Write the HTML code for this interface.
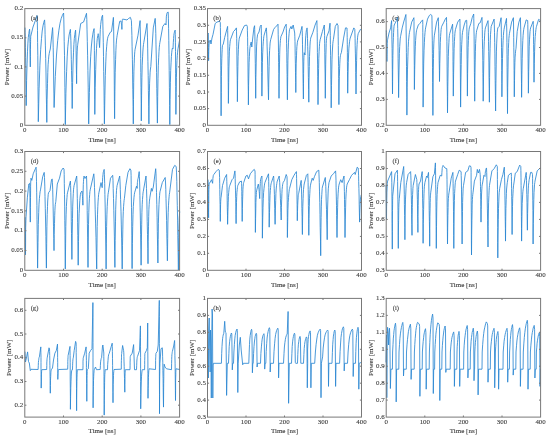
<!DOCTYPE html>
<html><head><meta charset="utf-8"><title>Power time series</title>
<style>
html,body{margin:0;padding:0;background:#fff;}
body{width:550px;height:438px;overflow:hidden;}
svg{display:block;}
text{font-family:"Liberation Serif","DejaVu Serif",serif;fill:#3a3a3a;stroke:#3a3a3a;stroke-width:0.1px;}
.sig{fill:none;stroke:#2a86d2;stroke-width:0.85;stroke-linejoin:round;stroke-linecap:round;}
.ax{fill:none;stroke:#787878;stroke-width:1;}
</style></head><body>
<svg width="550" height="438" viewBox="0 0 550 438">
<rect width="550" height="438" fill="#fff"/>
<g><path class="sig" d="M25.0 28.0 L25.1 32.2 L25.3 39.1 L25.4 47.7 L25.6 57.4 L25.8 68.2 L25.9 79.9 L26.1 92.4 L26.2 105.6 L26.6 80.4 L27.1 63.1 L27.5 51.2 L27.9 43.1 L28.3 37.4 L28.8 33.6 L29.2 30.9 L29.6 29.1 L29.7 31.2 L29.8 34.5 L29.9 38.7 L30.0 43.4 L30.0 48.7 L30.1 54.4 L30.2 60.5 L30.3 66.9 L30.4 56.7 L30.4 49.7 L30.5 44.9 L30.6 41.6 L30.6 39.4 L30.7 37.8 L30.7 36.7 L30.8 36.0 L33.0 27.0 L37.2 15.5 L37.3 21.3 L37.5 30.7 L37.6 42.4 L37.8 55.7 L37.9 70.5 L38.0 86.5 L38.2 103.6 L38.3 121.7 L39.1 88.2 L39.9 65.2 L40.7 49.3 L41.5 38.5 L42.2 31.0 L43.0 25.9 L43.8 22.3 L44.6 19.9 L44.9 25.5 L45.1 34.6 L45.4 45.9 L45.7 58.7 L46.0 73.0 L46.2 88.4 L46.5 104.9 L46.8 122.4 L47.1 99.2 L47.5 83.3 L47.8 72.4 L48.1 64.8 L48.5 59.7 L48.8 56.1 L49.2 53.7 L49.5 52.0 L50.3 49.0 L52.6 27.6 L52.8 31.9 L53.0 39.1 L53.2 47.8 L53.4 57.9 L53.5 69.0 L53.7 81.0 L53.9 93.9 L54.1 107.5 L55.3 76.4 L56.5 55.0 L57.7 40.3 L58.9 30.2 L60.0 23.3 L61.2 18.5 L62.4 15.3 L63.6 13.0 L63.8 19.1 L64.0 29.0 L64.2 41.3 L64.5 55.3 L64.7 70.8 L64.9 87.6 L65.1 105.6 L65.3 124.6 L65.9 93.3 L66.6 71.7 L67.2 56.9 L67.8 46.8 L68.5 39.8 L69.1 35.0 L69.8 31.7 L70.4 29.4 L70.6 33.7 L70.9 40.8 L71.1 49.4 L71.3 59.4 L71.5 70.4 L71.8 82.3 L72.0 95.0 L72.2 108.5 L72.6 82.7 L73.0 65.0 L73.5 52.8 L73.9 44.4 L74.3 38.6 L74.8 34.7 L75.2 32.0 L75.6 30.1 L75.7 33.0 L75.8 37.8 L76.0 43.7 L76.1 50.4 L76.2 57.9 L76.3 65.9 L76.5 74.6 L76.6 83.7 L76.7 70.9 L76.9 62.0 L77.0 56.0 L77.2 51.8 L77.3 49.0 L77.4 47.0 L77.6 45.6 L77.7 44.7 L80.7 23.5 L83.6 22.0 L86.5 13.3 L86.8 19.3 L87.0 29.2 L87.3 41.3 L87.6 55.2 L87.9 70.6 L88.2 87.2 L88.4 105.0 L88.7 123.9 L89.4 92.5 L90.0 71.0 L90.7 56.2 L91.4 46.0 L92.1 39.0 L92.8 34.2 L93.4 30.9 L94.1 28.6 L94.2 33.3 L94.3 40.9 L94.4 50.3 L94.4 61.1 L94.5 73.0 L94.6 86.0 L94.7 99.8 L94.8 114.4 L95.2 87.8 L95.7 69.6 L96.1 57.0 L96.5 48.4 L96.9 42.5 L97.3 38.4 L97.8 35.6 L98.2 33.7 L98.4 34.5 L98.5 35.7 L98.7 37.2 L98.9 39.0 L99.1 40.9 L99.2 43.0 L99.4 45.2 L99.6 47.6 L100.0 36.9 L100.3 29.6 L100.7 24.6 L101.1 21.1 L101.5 18.7 L101.8 17.1 L102.2 16.0 L102.6 15.2 L102.8 21.1 L103.0 30.8 L103.3 42.7 L103.5 56.4 L103.7 71.5 L104.0 87.9 L104.2 105.4 L104.4 123.9 L104.9 95.2 L105.3 75.5 L105.8 61.9 L106.2 52.6 L106.7 46.2 L107.1 41.8 L107.5 38.8 L108.0 36.7 L110.2 32.3 L111.5 31.5 L113.4 17.4 L113.6 22.9 L113.7 31.9 L113.8 43.1 L114.0 55.8 L114.2 69.9 L114.3 85.1 L114.4 101.4 L114.6 118.7 L114.9 91.2 L115.2 72.3 L115.6 59.4 L115.9 50.4 L116.2 44.3 L116.5 40.1 L116.9 37.2 L117.2 35.2 L119.7 21.3 L121.0 21.0 L121.1 21.5 L121.2 22.2 L121.3 23.1 L121.5 24.2 L121.6 25.4 L121.7 26.6 L121.8 28.0 L121.9 29.4 L122.0 26.0 L122.1 23.7 L122.2 22.1 L122.2 21.0 L122.3 20.2 L122.4 19.7 L122.5 19.3 L122.6 19.1 L125.0 19.5 L127.0 20.0 L128.5 18.5 L130.4 17.4 L131.4 20.6 L131.6 26.2 L131.9 35.4 L132.1 46.8 L132.4 59.7 L132.6 74.1 L132.8 89.7 L133.1 106.3 L133.3 123.9 L133.5 99.5 L133.7 82.8 L133.9 71.2 L134.2 63.3 L134.4 57.9 L134.6 54.1 L134.8 51.6 L135.0 49.8 L138.0 35.2 L140.1 20.6 L140.2 26.1 L140.4 35.0 L140.6 46.0 L140.7 58.6 L140.8 72.5 L141.0 87.6 L141.2 103.8 L141.3 120.9 L141.6 95.1 L141.9 77.4 L142.2 65.2 L142.6 56.8 L142.9 51.0 L143.2 47.1 L143.5 44.4 L143.8 42.5 L147.0 23.5 L147.2 29.0 L147.5 37.9 L147.7 48.9 L147.9 61.5 L148.2 75.5 L148.4 90.6 L148.7 106.8 L148.9 123.9 L149.1 105.0 L149.4 92.1 L149.6 83.2 L149.9 77.1 L150.1 72.8 L150.3 70.0 L150.6 68.0 L150.8 66.6 L153.3 27.9 L155.2 18.4 L155.5 24.1 L155.8 33.4 L156.0 44.9 L156.3 58.1 L156.6 72.6 L156.8 88.4 L157.1 105.2 L157.4 123.1 L157.7 96.6 L158.0 78.3 L158.3 65.8 L158.7 57.2 L159.0 51.3 L159.3 47.2 L159.6 44.4 L159.9 42.5 L162.8 26.4 L165.0 23.5 L166.0 25.0 L166.2 20.9 L166.3 18.1 L166.4 16.2 L166.6 14.9 L166.8 14.0 L166.9 13.3 L167.0 12.9 L167.2 12.6 L168.2 12.1 L168.4 18.2 L168.6 28.3 L168.8 40.6 L169.0 54.7 L169.2 70.4 L169.4 87.3 L169.6 105.4 L169.8 124.6 L170.1 99.5 L170.4 82.2 L170.7 70.4 L171.1 62.2 L171.4 56.6 L171.7 52.8 L172.0 50.1 L172.3 48.3 L173.0 49.0 L173.3 42.8 L173.6 38.5 L173.8 35.6 L174.1 33.5 L174.4 32.2 L174.6 31.2 L174.9 30.6 L175.2 30.1 L175.3 34.7 L175.4 42.2 L175.5 51.5 L175.6 62.0 L175.6 73.8 L175.7 86.5 L175.8 100.0 L175.9 114.4 L176.2 92.6 L176.4 77.7 L176.7 67.4 L177.0 60.4 L177.3 55.5 L177.6 52.2 L177.8 49.9 L178.1 48.3 L179.6 40.0"/>
<rect class="ax" x="24.8" y="8.6" width="154.8" height="116.7"/>
<path class="ax" d="M63.5 125.3v-1.6M63.5 8.6v1.6M102.2 125.3v-1.6M102.2 8.6v1.6M140.9 125.3v-1.6M140.9 8.6v1.6M24.8 96.1h1.6M179.6 96.1h-1.6M24.8 66.9h1.6M179.6 66.9h-1.6M24.8 37.8h1.6M179.6 37.8h-1.6"/>
<text x="23.2" y="124.4" font-size="6.9" text-anchor="end" dominant-baseline="central">0</text>
<text x="23.2" y="95.2" font-size="6.9" text-anchor="end" dominant-baseline="central">0.05</text>
<text x="23.2" y="66.0" font-size="6.9" text-anchor="end" dominant-baseline="central">0.1</text>
<text x="23.2" y="36.9" font-size="6.9" text-anchor="end" dominant-baseline="central">0.15</text>
<text x="23.2" y="7.7" font-size="6.9" text-anchor="end" dominant-baseline="central">0.2</text>
<text x="24.8" y="129.7" font-size="6.9" text-anchor="middle" dominant-baseline="central">0</text>
<text x="63.5" y="129.7" font-size="6.9" text-anchor="middle" dominant-baseline="central">100</text>
<text x="102.2" y="129.7" font-size="6.9" text-anchor="middle" dominant-baseline="central">200</text>
<text x="140.9" y="129.7" font-size="6.9" text-anchor="middle" dominant-baseline="central">300</text>
<text x="179.6" y="129.7" font-size="6.9" text-anchor="middle" dominant-baseline="central">400</text>
<text x="102.2" y="139.5" font-size="7.0" text-anchor="middle" dominant-baseline="central">Time [ns]</text>
<text transform="translate(6.8 67.0) rotate(-90)" font-size="7.0" text-anchor="middle" dominant-baseline="central">Power [mW]</text>
<text x="34.5" y="17.2" font-size="6.6" text-anchor="middle" dominant-baseline="central">(a)</text></g>
<g><path class="sig" d="M207.6 45.0 L207.7 41.1 L207.8 38.3 L207.8 36.5 L207.9 35.2 L208.0 34.3 L208.0 33.7 L208.1 33.3 L208.2 33.0 L208.2 34.5 L208.3 37.0 L208.3 40.0 L208.4 43.5 L208.4 47.3 L208.5 51.5 L208.5 56.0 L208.6 60.7 L208.7 54.7 L208.8 50.6 L208.9 47.8 L209.0 45.8 L209.1 44.5 L209.2 43.6 L209.3 42.9 L209.4 42.5 L210.2 40.0 L211.0 44.0 L212.0 38.0 L213.0 34.5 L215.2 23.5 L217.0 22.0 L219.6 21.3 L220.3 22.5 L220.4 27.6 L220.5 35.9 L220.6 46.1 L220.7 57.9 L220.8 70.8 L220.9 84.9 L221.0 99.9 L221.1 115.8 L221.3 92.6 L221.4 76.7 L221.6 65.8 L221.8 58.2 L222.0 53.1 L222.2 49.5 L222.3 47.1 L222.5 45.4 L223.3 44.0 L224.7 37.4 L227.6 26.4 L227.7 30.6 L227.8 37.5 L227.9 45.9 L228.0 55.6 L228.1 66.3 L228.2 77.9 L228.3 90.3 L228.4 103.4 L228.7 82.4 L228.9 68.0 L229.2 58.1 L229.4 51.2 L229.7 46.6 L230.0 43.3 L230.2 41.1 L230.5 39.6 L233.5 31.5 L235.0 30.0 L236.4 27.9 L236.5 31.9 L236.7 38.5 L236.8 46.6 L236.9 55.9 L237.0 66.1 L237.2 77.2 L237.3 89.1 L237.4 101.7 L237.6 80.8 L237.9 66.4 L238.1 56.5 L238.4 49.7 L238.6 45.0 L238.8 41.8 L239.1 39.6 L239.3 38.1 L242.2 30.1 L244.4 25.7 L246.6 25.0 L247.3 26.5 L247.4 30.8 L247.6 37.8 L247.7 46.4 L247.9 56.2 L248.0 67.1 L248.1 78.9 L248.3 91.5 L248.4 104.9 L248.6 85.3 L248.9 71.9 L249.1 62.6 L249.4 56.3 L249.6 51.9 L249.8 48.9 L250.1 46.8 L250.3 45.4 L251.2 42.0 L251.8 47.0 L252.5 40.0 L253.9 27.9 L254.6 25.7 L254.7 29.7 L254.9 36.1 L255.0 44.1 L255.1 53.2 L255.3 63.3 L255.4 74.2 L255.6 85.9 L255.7 98.3 L255.9 77.3 L256.2 62.9 L256.4 53.0 L256.6 46.1 L256.9 41.5 L257.1 38.2 L257.4 36.0 L257.6 34.5 L259.0 32.0 L260.2 26.4 L261.2 25.0 L261.3 28.9 L261.4 35.2 L261.5 43.0 L261.5 51.9 L261.6 61.8 L261.7 72.5 L261.8 84.0 L261.9 96.1 L262.2 76.1 L262.4 62.3 L262.7 52.8 L263.0 46.3 L263.3 41.8 L263.6 38.8 L263.8 36.7 L264.1 35.2 L266.3 27.9 L266.6 31.8 L266.9 38.2 L267.1 46.1 L267.4 55.1 L267.7 65.1 L267.9 76.0 L268.2 87.5 L268.5 99.8 L268.8 80.0 L269.1 66.4 L269.3 57.0 L269.6 50.6 L269.9 46.2 L270.1 43.1 L270.4 41.0 L270.7 39.6 L273.6 29.4 L275.0 27.5 L276.5 26.0 L278.0 24.2 L278.1 28.2 L278.2 34.8 L278.4 43.0 L278.5 52.3 L278.6 62.6 L278.8 73.7 L278.9 85.7 L279.0 98.3 L279.2 78.0 L279.5 64.1 L279.7 54.5 L279.9 47.9 L280.2 43.4 L280.4 40.3 L280.7 38.2 L280.9 36.7 L283.0 32.0 L284.6 27.0 L286.2 24.2 L286.3 28.3 L286.5 35.1 L286.6 43.3 L286.8 52.8 L286.9 63.4 L287.1 74.7 L287.2 86.9 L287.4 99.8 L287.7 76.6 L287.9 60.7 L288.2 49.8 L288.5 42.2 L288.8 37.1 L289.1 33.5 L289.3 31.1 L289.6 29.4 L291.0 26.4 L291.8 29.0 L293.2 25.0 L294.7 33.0 L294.8 36.2 L295.0 41.5 L295.1 48.1 L295.2 55.5 L295.4 63.8 L295.5 72.8 L295.7 82.4 L295.8 92.5 L296.0 75.6 L296.2 63.9 L296.5 55.9 L296.7 50.4 L296.9 46.6 L297.2 44.0 L297.4 42.2 L297.6 41.0 L299.8 35.2 L302.0 26.4 L302.2 30.4 L302.4 36.8 L302.5 44.8 L302.7 53.9 L302.9 64.0 L303.0 74.9 L303.2 86.6 L303.4 99.0 L303.5 83.8 L303.6 73.3 L303.7 66.1 L303.8 61.1 L303.9 57.7 L304.0 55.4 L304.1 53.8 L304.2 52.7 L305.0 55.0 L305.3 46.1 L305.5 40.0 L305.8 35.7 L306.1 32.8 L306.3 30.9 L306.6 29.5 L306.8 28.5 L307.1 27.9 L307.3 31.9 L307.5 38.6 L307.7 46.7 L308.0 56.1 L308.2 66.4 L308.4 77.6 L308.6 89.5 L308.8 102.2 L309.0 81.1 L309.3 66.6 L309.5 56.6 L309.8 49.8 L310.0 45.1 L310.2 41.9 L310.5 39.6 L310.7 38.1 L312.9 32.3 L315.1 25.0 L316.9 20.6 L317.0 25.2 L317.2 32.7 L317.3 41.9 L317.4 52.4 L317.6 64.1 L317.7 76.8 L317.9 90.3 L318.0 104.6 L318.3 83.2 L318.6 68.5 L318.8 58.4 L319.1 51.5 L319.4 46.7 L319.6 43.4 L319.9 41.1 L320.2 39.6 L322.4 31.5 L324.3 25.0 L324.4 29.0 L324.6 35.5 L324.7 43.6 L324.8 52.8 L324.9 63.0 L325.1 74.0 L325.2 85.8 L325.3 98.3 L325.5 78.0 L325.7 64.1 L325.9 54.5 L326.1 47.9 L326.2 43.4 L326.4 40.3 L326.6 38.2 L326.8 36.7 L329.0 30.8 L330.0 23.2 L330.1 27.8 L330.3 35.3 L330.4 44.6 L330.6 55.3 L330.8 67.0 L330.9 79.8 L331.1 93.4 L331.2 107.8 L331.5 85.4 L331.8 69.9 L332.0 59.3 L332.3 52.0 L332.6 47.0 L332.8 43.6 L333.1 41.2 L333.4 39.6 L335.3 26.4 L337.0 23.5 L338.0 25.5 L338.1 29.8 L338.2 36.9 L338.3 45.5 L338.4 55.5 L338.6 66.5 L338.7 78.4 L338.8 91.1 L338.9 104.6 L339.1 88.0 L339.3 76.6 L339.6 68.8 L339.8 63.4 L340.0 59.7 L340.2 57.1 L340.5 55.4 L340.7 54.2 L341.4 52.5 L343.6 38.1 L345.5 27.9 L347.0 28.0 L347.1 31.5 L347.2 37.4 L347.3 44.5 L347.4 52.7 L347.4 61.8 L347.5 71.6 L347.6 82.1 L347.7 93.2 L348.0 75.1 L348.3 62.6 L348.6 54.0 L348.9 48.2 L349.3 44.1 L349.6 41.3 L349.9 39.4 L350.2 38.1 L353.8 27.9 L354.8 29.4 L354.9 32.9 L355.1 38.7 L355.2 45.8 L355.4 53.9 L355.6 62.9 L355.7 72.6 L355.9 83.0 L356.0 94.0 L356.3 74.2 L356.6 60.5 L356.8 51.1 L357.1 44.7 L357.4 40.3 L357.6 37.2 L357.9 35.1 L358.2 33.7 L360.4 29.4 L361.3 30.0"/>
<rect class="ax" x="207.5" y="8.6" width="154.0" height="116.7"/>
<path class="ax" d="M246.0 125.3v-1.6M246.0 8.6v1.6M284.5 125.3v-1.6M284.5 8.6v1.6M323.0 125.3v-1.6M323.0 8.6v1.6M207.5 108.6h1.6M361.5 108.6h-1.6M207.5 92.0h1.6M361.5 92.0h-1.6M207.5 75.3h1.6M361.5 75.3h-1.6M207.5 58.6h1.6M361.5 58.6h-1.6M207.5 41.9h1.6M361.5 41.9h-1.6M207.5 25.3h1.6M361.5 25.3h-1.6"/>
<text x="205.9" y="124.4" font-size="6.9" text-anchor="end" dominant-baseline="central">0</text>
<text x="205.9" y="107.7" font-size="6.9" text-anchor="end" dominant-baseline="central">0.05</text>
<text x="205.9" y="91.1" font-size="6.9" text-anchor="end" dominant-baseline="central">0.1</text>
<text x="205.9" y="74.4" font-size="6.9" text-anchor="end" dominant-baseline="central">0.15</text>
<text x="205.9" y="57.7" font-size="6.9" text-anchor="end" dominant-baseline="central">0.2</text>
<text x="205.9" y="41.0" font-size="6.9" text-anchor="end" dominant-baseline="central">0.25</text>
<text x="205.9" y="24.4" font-size="6.9" text-anchor="end" dominant-baseline="central">0.3</text>
<text x="205.9" y="7.7" font-size="6.9" text-anchor="end" dominant-baseline="central">0.35</text>
<text x="207.5" y="129.7" font-size="6.9" text-anchor="middle" dominant-baseline="central">0</text>
<text x="246.0" y="129.7" font-size="6.9" text-anchor="middle" dominant-baseline="central">100</text>
<text x="284.5" y="129.7" font-size="6.9" text-anchor="middle" dominant-baseline="central">200</text>
<text x="323.0" y="129.7" font-size="6.9" text-anchor="middle" dominant-baseline="central">300</text>
<text x="361.5" y="129.7" font-size="6.9" text-anchor="middle" dominant-baseline="central">400</text>
<text x="284.5" y="139.5" font-size="7.0" text-anchor="middle" dominant-baseline="central">Time [ns]</text>
<text transform="translate(188.2 67.0) rotate(-90)" font-size="7.0" text-anchor="middle" dominant-baseline="central">Power [mW]</text>
<text x="217.2" y="17.2" font-size="6.6" text-anchor="middle" dominant-baseline="central">(b)</text></g>
<g><path class="sig" d="M386.3 30.8 L386.4 32.5 L386.4 35.2 L386.5 38.6 L386.6 42.4 L386.7 46.7 L386.8 51.3 L386.8 56.3 L386.9 61.5 L387.0 54.3 L387.1 49.3 L387.2 45.9 L387.2 43.6 L387.3 42.0 L387.4 40.9 L387.5 40.1 L387.6 39.6 L389.0 33.0 L390.6 27.9 L391.6 20.6 L391.7 24.6 L391.8 31.1 L391.9 39.2 L392.1 48.4 L392.2 58.6 L392.3 69.6 L392.4 81.4 L392.5 93.9 L392.7 71.2 L392.9 55.6 L393.1 44.9 L393.4 37.6 L393.6 32.5 L393.8 29.0 L394.0 26.6 L394.2 25.0 L396.4 20.6 L397.4 17.0 L397.5 21.4 L397.7 28.6 L397.9 37.4 L398.0 47.5 L398.1 58.7 L398.3 70.9 L398.5 83.9 L398.6 97.6 L398.9 77.1 L399.2 63.0 L399.4 53.3 L399.7 46.6 L400.0 42.0 L400.2 38.9 L400.5 36.7 L400.8 35.2 L402.2 27.9 L403.7 22.0 L405.9 14.5 L406.0 20.0 L406.1 28.9 L406.3 40.0 L406.4 52.6 L406.5 66.6 L406.6 81.7 L406.8 97.9 L406.9 115.1 L407.2 87.9 L407.5 69.1 L407.9 56.3 L408.2 47.4 L408.5 41.3 L408.9 37.1 L409.2 34.3 L409.5 32.3 L411.7 22.1 L413.9 17.7 L414.0 21.6 L414.0 28.0 L414.1 35.9 L414.1 44.9 L414.2 54.9 L414.3 65.7 L414.3 77.3 L414.4 89.5 L414.7 69.7 L415.0 56.1 L415.3 46.8 L415.6 40.4 L415.9 36.0 L416.2 32.9 L416.5 30.8 L416.8 29.4 L418.3 25.0 L419.8 23.5 L421.6 21.0 L422.7 19.9 L422.8 24.6 L422.8 32.4 L422.9 42.0 L422.9 52.9 L422.9 65.1 L423.0 78.2 L423.1 92.2 L423.1 107.1 L423.4 81.0 L423.7 63.1 L424.0 50.8 L424.4 42.3 L424.7 36.5 L425.0 32.5 L425.3 29.8 L425.6 27.9 L427.5 19.1 L429.3 15.5 L430.7 14.5 L431.9 15.5 L432.0 20.9 L432.1 29.8 L432.3 40.8 L432.4 53.4 L432.5 67.2 L432.6 82.3 L432.8 98.4 L432.9 115.4 L433.1 89.0 L433.3 70.9 L433.5 58.4 L433.6 49.8 L433.8 43.9 L434.0 39.9 L434.2 37.1 L434.4 35.2 L436.6 22.1 L438.3 17.7 L438.4 21.2 L438.6 26.9 L438.8 33.9 L438.9 41.9 L439.1 50.7 L439.2 60.3 L439.4 70.6 L439.5 81.5 L439.8 63.4 L440.1 50.9 L440.3 42.3 L440.6 36.5 L440.9 32.4 L441.1 29.6 L441.4 27.7 L441.7 26.4 L443.9 22.1 L445.3 19.1 L446.5 17.4 L446.6 22.6 L446.8 31.1 L446.9 41.6 L447.0 53.6 L447.1 66.9 L447.2 81.2 L447.4 96.6 L447.5 112.9 L447.8 86.8 L448.1 68.9 L448.3 56.6 L448.6 48.1 L448.9 42.3 L449.1 38.3 L449.4 35.6 L449.7 33.7 L452.6 24.2 L452.7 28.1 L452.8 34.5 L452.9 42.4 L453.0 51.4 L453.0 61.4 L453.1 72.3 L453.2 83.8 L453.3 96.1 L453.6 74.1 L453.9 59.1 L454.1 48.7 L454.4 41.6 L454.7 36.7 L454.9 33.3 L455.2 31.0 L455.5 29.4 L457.7 22.1 L459.9 19.1 L460.0 23.9 L460.1 31.7 L460.2 41.4 L460.2 52.4 L460.3 64.7 L460.4 77.9 L460.5 92.1 L460.6 107.1 L460.9 82.0 L461.2 64.7 L461.4 52.9 L461.7 44.7 L462.0 39.1 L462.2 35.3 L462.5 32.6 L462.8 30.8 L464.2 25.0 L465.6 20.6 L466.7 20.3 L466.8 24.4 L466.9 31.2 L467.0 39.5 L467.0 49.0 L467.1 59.6 L467.2 71.0 L467.3 83.2 L467.4 96.1 L467.6 73.7 L467.9 58.2 L468.1 47.6 L468.4 40.3 L468.6 35.3 L468.8 31.9 L469.1 29.5 L469.3 27.9 L470.8 23.5 L472.2 17.7 L473.7 14.0 L473.8 18.7 L473.9 26.5 L474.1 36.1 L474.2 47.0 L474.3 59.2 L474.4 72.3 L474.6 86.3 L474.7 101.2 L474.9 78.0 L475.2 62.1 L475.4 51.2 L475.6 43.6 L475.9 38.5 L476.1 34.9 L476.4 32.5 L476.6 30.8 L478.8 23.5 L480.2 22.8 L482.0 17.4 L482.1 22.0 L482.3 29.4 L482.4 38.6 L482.6 49.2 L482.8 60.8 L482.9 73.4 L483.1 86.9 L483.2 101.2 L483.5 77.1 L483.8 60.5 L484.0 49.1 L484.3 41.3 L484.6 35.9 L484.8 32.2 L485.1 29.6 L485.4 27.9 L488.0 20.6 L488.2 25.0 L488.4 32.3 L488.5 41.3 L488.7 51.5 L488.9 62.9 L489.0 75.1 L489.2 88.3 L489.4 102.2 L489.6 77.3 L489.8 60.1 L490.1 48.3 L490.3 40.2 L490.5 34.7 L490.8 30.8 L491.0 28.2 L491.2 26.4 L494.1 19.1 L494.3 24.1 L494.5 32.3 L494.7 42.4 L494.9 53.9 L495.0 66.7 L495.2 80.5 L495.4 95.3 L495.6 111.0 L495.9 83.7 L496.2 64.9 L496.4 51.9 L496.7 43.1 L497.0 37.0 L497.2 32.8 L497.5 29.9 L497.8 27.9 L499.2 26.4 L501.1 17.7 L501.2 22.0 L501.3 29.1 L501.4 37.7 L501.5 47.7 L501.6 58.7 L501.7 70.6 L501.8 83.3 L501.9 96.8 L502.2 74.1 L502.5 58.5 L502.8 47.8 L503.1 40.5 L503.4 35.4 L503.7 31.9 L504.0 29.5 L504.3 27.9 L506.5 18.4 L506.6 23.6 L506.8 32.1 L506.9 42.5 L507.0 54.5 L507.1 67.7 L507.2 82.0 L507.4 97.4 L507.5 113.6 L507.7 87.3 L508.0 69.2 L508.2 56.8 L508.4 48.3 L508.7 42.4 L508.9 38.4 L509.2 35.6 L509.4 33.7 L511.6 22.1 L513.4 17.7 L513.5 22.0 L513.6 29.1 L513.7 37.7 L513.8 47.7 L514.0 58.7 L514.1 70.6 L514.2 83.3 L514.3 96.8 L514.5 80.8 L514.7 69.9 L514.9 62.3 L515.1 57.1 L515.4 53.6 L515.6 51.1 L515.8 49.5 L516.0 48.3 L517.2 31.5 L518.9 22.1 L520.4 17.7 L520.5 22.0 L520.7 29.1 L520.9 37.9 L521.0 47.9 L521.1 58.9 L521.3 70.9 L521.5 83.7 L521.6 97.3 L521.9 74.5 L522.2 58.8 L522.5 48.0 L522.8 40.6 L523.1 35.5 L523.4 32.0 L523.7 29.6 L524.0 27.9 L526.2 19.9 L527.7 20.6 L527.8 24.6 L527.9 31.0 L528.0 39.0 L528.0 48.1 L528.1 58.2 L528.2 69.1 L528.3 80.8 L528.4 93.2 L528.7 71.7 L529.0 56.9 L529.2 46.8 L529.5 39.8 L529.8 35.0 L530.0 31.7 L530.3 29.5 L530.6 27.9 L533.2 21.3 L533.3 24.6 L533.4 30.0 L533.5 36.7 L533.6 44.4 L533.7 52.8 L533.8 62.0 L533.9 71.8 L534.0 82.2 L534.3 63.8 L534.6 51.2 L534.9 42.5 L535.2 36.6 L535.6 32.5 L535.9 29.7 L536.2 27.7 L536.5 26.4 L538.6 19.4 L540.5 20.6"/>
<rect class="ax" x="386.2" y="8.6" width="154.4" height="116.7"/>
<path class="ax" d="M424.8 125.3v-1.6M424.8 8.6v1.6M463.4 125.3v-1.6M463.4 8.6v1.6M502.0 125.3v-1.6M502.0 8.6v1.6M386.2 99.4h1.6M540.6 99.4h-1.6M386.2 73.4h1.6M540.6 73.4h-1.6M386.2 47.5h1.6M540.6 47.5h-1.6M386.2 21.6h1.6M540.6 21.6h-1.6"/>
<text x="384.6" y="124.4" font-size="6.9" text-anchor="end" dominant-baseline="central">0.2</text>
<text x="384.6" y="98.5" font-size="6.9" text-anchor="end" dominant-baseline="central">0.3</text>
<text x="384.6" y="72.5" font-size="6.9" text-anchor="end" dominant-baseline="central">0.4</text>
<text x="384.6" y="46.6" font-size="6.9" text-anchor="end" dominant-baseline="central">0.5</text>
<text x="384.6" y="20.7" font-size="6.9" text-anchor="end" dominant-baseline="central">0.6</text>
<text x="386.2" y="129.7" font-size="6.9" text-anchor="middle" dominant-baseline="central">0</text>
<text x="424.8" y="129.7" font-size="6.9" text-anchor="middle" dominant-baseline="central">100</text>
<text x="463.4" y="129.7" font-size="6.9" text-anchor="middle" dominant-baseline="central">200</text>
<text x="502.0" y="129.7" font-size="6.9" text-anchor="middle" dominant-baseline="central">300</text>
<text x="540.6" y="129.7" font-size="6.9" text-anchor="middle" dominant-baseline="central">400</text>
<text x="463.4" y="139.5" font-size="7.0" text-anchor="middle" dominant-baseline="central">Time [ns]</text>
<text transform="translate(371.4 67.0) rotate(-90)" font-size="7.0" text-anchor="middle" dominant-baseline="central">Power [mW]</text>
<text x="395.9" y="17.2" font-size="6.6" text-anchor="middle" dominant-baseline="central">(c)</text></g>
<g><path class="sig" d="M25.2 217.7 L25.2 219.7 L25.3 223.0 L25.3 227.1 L25.4 231.8 L25.4 236.9 L25.4 242.5 L25.5 248.5 L25.5 254.8 L25.6 242.0 L25.6 233.3 L25.7 227.2 L25.8 223.1 L25.9 220.2 L26.0 218.3 L26.0 216.9 L26.1 216.0 L27.4 197.2 L28.8 184.0 L29.6 183.3 L29.7 185.4 L29.8 188.9 L29.9 193.1 L30.0 198.0 L30.0 203.4 L30.1 209.2 L30.2 215.5 L30.3 222.1 L30.4 207.7 L30.5 197.7 L30.6 190.9 L30.6 186.2 L30.7 183.0 L30.8 180.8 L30.9 179.2 L31.0 178.2 L31.8 180.4 L33.2 173.8 L35.4 168.7 L36.1 167.2 L36.3 172.7 L36.5 181.7 L36.7 192.8 L36.9 205.4 L37.0 219.5 L37.2 234.6 L37.4 250.9 L37.6 268.1 L38.0 242.4 L38.3 224.7 L38.7 212.5 L39.0 204.2 L39.4 198.4 L39.8 194.5 L40.1 191.8 L40.5 189.9 L42.7 176.7 L44.2 172.4 L44.5 177.6 L44.8 186.1 L45.0 196.6 L45.3 208.7 L45.6 222.0 L45.9 236.4 L46.1 251.8 L46.4 268.1 L46.7 243.3 L46.9 226.3 L47.2 214.6 L47.5 206.5 L47.7 201.0 L48.0 197.2 L48.2 194.6 L48.5 192.8 L50.0 190.6 L51.5 179.7 L52.2 178.9 L52.4 182.8 L52.7 189.2 L52.9 197.1 L53.1 206.1 L53.3 216.0 L53.5 226.8 L53.8 238.4 L54.0 250.6 L54.2 234.5 L54.5 223.4 L54.7 215.8 L54.9 210.5 L55.1 206.9 L55.3 204.5 L55.6 202.8 L55.8 201.6 L57.3 184.0 L59.5 178.2 L61.2 170.9 L63.1 168.0 L64.0 169.0 L64.2 174.4 L64.3 183.3 L64.5 194.3 L64.7 206.9 L64.8 220.7 L65.0 235.8 L65.1 251.9 L65.3 268.9 L65.6 243.9 L65.8 226.6 L66.1 214.8 L66.4 206.7 L66.7 201.1 L67.0 197.3 L67.2 194.6 L67.5 192.8 L70.4 181.1 L70.6 185.4 L70.8 192.3 L71.0 200.9 L71.2 210.8 L71.3 221.7 L71.5 233.4 L71.7 246.0 L71.9 259.4 L72.2 235.1 L72.5 218.4 L72.7 206.9 L73.0 199.0 L73.3 193.6 L73.5 189.8 L73.8 187.3 L74.1 185.5 L76.7 176.0 L76.9 180.9 L77.1 188.8 L77.3 198.6 L77.5 209.8 L77.6 222.2 L77.8 235.6 L78.0 250.0 L78.2 265.2 L78.5 241.4 L78.8 225.0 L79.1 213.7 L79.5 206.0 L79.8 200.7 L80.1 197.0 L80.4 194.5 L80.7 192.8 L82.0 191.0 L82.1 191.8 L82.2 193.0 L82.3 194.6 L82.5 196.4 L82.6 198.4 L82.7 200.5 L82.8 202.8 L82.9 205.2 L83.0 195.6 L83.2 189.0 L83.3 184.4 L83.5 181.3 L83.6 179.2 L83.7 177.7 L83.9 176.7 L84.0 176.0 L85.0 178.5 L86.5 176.0 L86.7 181.0 L86.9 189.1 L87.1 199.2 L87.2 210.6 L87.4 223.3 L87.6 237.1 L87.8 251.8 L88.0 267.4 L88.3 241.9 L88.5 224.4 L88.8 212.3 L89.1 204.0 L89.4 198.3 L89.7 194.4 L89.9 191.7 L90.2 189.9 L93.8 173.8 L94.2 179.0 L94.5 187.5 L94.9 197.9 L95.2 209.8 L95.6 223.1 L96.0 237.4 L96.3 252.7 L96.7 268.9 L97.0 243.9 L97.2 226.6 L97.5 214.8 L97.8 206.7 L98.1 201.1 L98.4 197.3 L98.6 194.6 L98.9 192.8 L101.0 182.6 L102.2 187.7 L102.5 181.7 L102.7 177.5 L103.0 174.7 L103.2 172.7 L103.5 171.4 L103.7 170.5 L104.0 169.8 L104.2 169.4 L104.4 174.8 L104.7 183.7 L104.9 194.6 L105.2 207.1 L105.4 220.9 L105.6 235.9 L105.9 251.9 L106.1 268.9 L106.4 243.9 L106.6 226.6 L106.9 214.8 L107.2 206.7 L107.5 201.1 L107.8 197.3 L108.0 194.6 L108.3 192.8 L110.5 178.2 L112.7 175.3 L113.0 180.3 L113.2 188.5 L113.5 198.6 L113.8 210.2 L114.1 223.0 L114.4 236.9 L114.6 251.7 L114.9 267.4 L115.2 240.4 L115.5 221.9 L115.7 209.2 L116.0 200.4 L116.3 194.4 L116.5 190.3 L116.8 187.5 L117.1 185.5 L119.7 176.0 L120.0 181.1 L120.3 189.3 L120.6 199.5 L121.0 211.2 L121.3 224.1 L121.6 238.1 L121.9 253.1 L122.2 268.9 L122.5 245.8 L122.8 229.9 L123.0 218.9 L123.3 211.4 L123.6 206.3 L123.9 202.7 L124.1 200.3 L124.4 198.6 L125.8 185.5 L128.0 172.4 L129.9 168.7 L130.9 170.0 L131.1 175.4 L131.2 184.2 L131.3 195.0 L131.5 207.4 L131.7 221.1 L131.8 235.9 L131.9 251.8 L132.1 268.6 L132.4 243.7 L132.7 226.5 L133.0 214.7 L133.3 206.6 L133.7 201.1 L134.0 197.2 L134.3 194.6 L134.6 192.8 L136.5 186.2 L137.2 188.4 L137.3 185.0 L137.4 182.7 L137.6 181.2 L137.7 180.1 L137.8 179.3 L137.9 178.8 L138.1 178.4 L138.2 178.2 L139.2 171.6 L139.4 176.7 L139.7 185.0 L139.9 195.3 L140.1 207.1 L140.4 220.1 L140.6 234.2 L140.9 249.2 L141.1 265.2 L141.4 240.9 L141.7 224.2 L141.9 212.7 L142.2 204.8 L142.5 199.4 L142.8 195.6 L143.0 193.1 L143.3 191.3 L146.0 176.0 L146.2 180.8 L146.5 188.6 L146.8 198.2 L147.0 209.2 L147.2 221.4 L147.5 234.6 L147.8 248.7 L148.0 263.7 L148.2 241.8 L148.5 226.8 L148.7 216.4 L148.9 209.3 L149.2 204.4 L149.4 201.1 L149.7 198.8 L149.9 197.2 L151.4 188.4 L152.1 191.3 L153.3 187.0 L155.7 168.7 L156.0 173.8 L156.2 182.2 L156.5 192.6 L156.8 204.4 L157.1 217.5 L157.3 231.7 L157.6 246.9 L157.9 263.0 L158.2 239.4 L158.4 223.2 L158.7 212.0 L159.0 204.4 L159.3 199.1 L159.6 195.5 L159.8 193.0 L160.1 191.3 L162.3 182.6 L165.2 177.5 L165.5 182.0 L165.8 189.5 L166.0 198.6 L166.3 209.1 L166.6 220.6 L166.8 233.2 L167.1 246.6 L167.4 260.8 L167.7 238.4 L167.9 223.0 L168.2 212.5 L168.5 205.2 L168.8 200.2 L169.1 196.8 L169.3 194.4 L169.6 192.8 L172.5 169.4 L174.7 165.4 L176.2 166.5 L176.5 172.1 L176.8 181.4 L177.0 192.7 L177.3 205.7 L177.6 220.1 L177.8 235.7 L178.1 252.4 L178.4 270.0 L178.6 250.9 L178.7 237.8 L178.9 228.8 L179.1 222.6 L179.2 218.3 L179.4 215.4 L179.5 213.4 L179.7 212.0"/>
<rect class="ax" x="24.8" y="151.5" width="154.8" height="118.8"/>
<path class="ax" d="M63.5 270.3v-1.6M63.5 151.5v1.6M102.2 270.3v-1.6M102.2 151.5v1.6M140.9 270.3v-1.6M140.9 151.5v1.6M24.8 250.5h1.6M179.6 250.5h-1.6M24.8 230.7h1.6M179.6 230.7h-1.6M24.8 210.9h1.6M179.6 210.9h-1.6M24.8 191.1h1.6M179.6 191.1h-1.6M24.8 171.3h1.6M179.6 171.3h-1.6"/>
<text x="23.2" y="269.4" font-size="6.9" text-anchor="end" dominant-baseline="central">0</text>
<text x="23.2" y="249.6" font-size="6.9" text-anchor="end" dominant-baseline="central">0.05</text>
<text x="23.2" y="229.8" font-size="6.9" text-anchor="end" dominant-baseline="central">0.1</text>
<text x="23.2" y="210.0" font-size="6.9" text-anchor="end" dominant-baseline="central">0.15</text>
<text x="23.2" y="190.2" font-size="6.9" text-anchor="end" dominant-baseline="central">0.2</text>
<text x="23.2" y="170.4" font-size="6.9" text-anchor="end" dominant-baseline="central">0.25</text>
<text x="23.2" y="150.6" font-size="6.9" text-anchor="end" dominant-baseline="central">0.3</text>
<text x="24.8" y="274.7" font-size="6.9" text-anchor="middle" dominant-baseline="central">0</text>
<text x="63.5" y="274.7" font-size="6.9" text-anchor="middle" dominant-baseline="central">100</text>
<text x="102.2" y="274.7" font-size="6.9" text-anchor="middle" dominant-baseline="central">200</text>
<text x="140.9" y="274.7" font-size="6.9" text-anchor="middle" dominant-baseline="central">300</text>
<text x="179.6" y="274.7" font-size="6.9" text-anchor="middle" dominant-baseline="central">400</text>
<text x="102.2" y="284.5" font-size="7.0" text-anchor="middle" dominant-baseline="central">Time [ns]</text>
<text transform="translate(6.8 210.9) rotate(-90)" font-size="7.0" text-anchor="middle" dominant-baseline="central">Power [mW]</text>
<text x="34.5" y="160.1" font-size="6.6" text-anchor="middle" dominant-baseline="central">(d)</text></g>
<g><path class="sig" d="M207.6 191.3 L207.6 187.5 L207.7 184.9 L207.7 183.1 L207.8 181.8 L207.8 181.0 L207.8 180.4 L207.9 180.0 L207.9 179.7 L208.2 188.0 L208.2 189.6 L208.3 192.3 L208.3 195.5 L208.4 199.3 L208.4 203.4 L208.5 207.9 L208.5 212.7 L208.6 217.8 L208.7 206.3 L208.8 198.5 L208.8 193.1 L208.9 189.3 L209.0 186.8 L209.0 185.0 L209.1 183.8 L209.2 183.0 L210.1 182.6 L211.5 179.7 L212.6 183.3 L212.8 180.4 L212.9 178.4 L213.1 177.0 L213.2 176.1 L213.3 175.5 L213.5 175.0 L213.7 174.7 L213.8 174.5 L216.0 171.6 L218.1 169.4 L219.3 170.2 L219.4 173.0 L219.6 177.6 L219.7 183.2 L219.8 189.6 L219.9 196.7 L220.1 204.4 L220.2 212.7 L220.3 221.4 L220.4 213.4 L220.5 208.0 L220.6 204.2 L220.7 201.6 L220.8 199.8 L220.9 198.6 L221.0 197.8 L221.1 197.2 L222.5 185.5 L224.7 178.2 L226.6 174.5 L226.7 177.2 L226.8 181.7 L227.0 187.1 L227.1 193.4 L227.2 200.3 L227.3 207.8 L227.5 215.8 L227.6 224.3 L227.9 211.5 L228.2 202.8 L228.4 196.7 L228.7 192.6 L229.0 189.7 L229.2 187.8 L229.5 186.4 L229.8 185.5 L232.0 179.7 L233.5 178.2 L234.9 170.9 L235.1 173.8 L235.2 178.5 L235.3 184.2 L235.5 190.9 L235.7 198.2 L235.8 206.1 L235.9 214.6 L236.1 223.6 L236.3 211.1 L236.5 202.4 L236.7 196.5 L236.9 192.5 L237.2 189.7 L237.4 187.7 L237.6 186.4 L237.8 185.5 L239.7 181.8 L241.5 181.1 L241.6 183.3 L241.7 186.9 L241.8 191.3 L241.8 196.4 L241.9 202.0 L242.0 208.0 L242.1 214.5 L242.2 221.4 L242.4 208.6 L242.6 199.9 L242.8 193.8 L242.9 189.7 L243.1 186.8 L243.3 184.9 L243.5 183.5 L243.7 182.6 L245.9 176.0 L247.3 175.3 L248.5 178.9 L250.3 173.8 L253.2 170.2 L254.3 169.4 L255.0 171.0 L255.1 174.3 L255.1 179.8 L255.2 186.6 L255.2 194.3 L255.2 202.8 L255.3 212.0 L255.3 221.9 L255.4 232.4 L255.6 218.4 L255.8 208.8 L255.9 202.2 L256.1 197.7 L256.3 194.5 L256.4 192.4 L256.6 190.9 L256.8 189.9 L258.3 184.0 L258.5 184.8 L258.6 186.1 L258.8 187.7 L259.0 189.5 L259.2 191.6 L259.4 193.8 L259.5 196.1 L259.7 198.6 L259.9 191.7 L260.1 186.9 L260.3 183.6 L260.4 181.3 L260.6 179.8 L260.8 178.7 L261.0 178.0 L261.2 177.5 L261.9 176.0 L262.0 179.4 L262.0 184.9 L262.1 191.8 L262.1 199.6 L262.2 208.2 L262.3 217.6 L262.3 227.6 L262.4 238.2 L262.7 219.9 L263.0 207.3 L263.3 198.7 L263.6 192.7 L264.0 188.7 L264.3 185.9 L264.6 183.9 L264.9 182.6 L268.5 173.8 L268.6 176.7 L268.7 181.5 L268.8 187.3 L268.9 194.0 L268.9 201.5 L269.0 209.5 L269.1 218.1 L269.2 227.2 L269.5 212.5 L269.8 202.4 L270.0 195.5 L270.3 190.7 L270.6 187.5 L270.8 185.2 L271.1 183.7 L271.4 182.6 L273.6 176.0 L273.8 178.6 L274.0 182.9 L274.2 188.2 L274.4 194.3 L274.5 201.0 L274.7 208.3 L274.9 216.1 L275.1 224.3 L275.4 210.1 L275.7 200.3 L275.9 193.6 L276.2 189.0 L276.5 185.8 L276.8 183.6 L277.0 182.1 L277.3 181.1 L279.2 176.0 L279.4 178.4 L279.7 182.3 L279.9 187.1 L280.2 192.7 L280.4 198.8 L280.7 205.4 L280.9 212.5 L281.2 220.0 L281.4 207.7 L281.7 199.2 L281.9 193.4 L282.1 189.4 L282.4 186.7 L282.6 184.8 L282.9 183.5 L283.1 182.6 L284.5 180.4 L286.2 174.5 L287.0 176.7 L287.1 180.0 L287.1 185.4 L287.1 192.1 L287.2 199.7 L287.2 208.2 L287.3 217.3 L287.3 227.1 L287.4 237.5 L287.7 221.3 L287.9 210.2 L288.2 202.6 L288.5 197.4 L288.8 193.8 L289.1 191.3 L289.3 189.6 L289.6 188.4 L291.8 179.7 L294.0 175.3 L295.4 173.1 L296.4 171.6 L296.5 174.3 L296.6 178.7 L296.7 184.0 L296.9 190.2 L297.0 197.0 L297.1 204.4 L297.2 212.3 L297.3 220.7 L297.5 211.5 L297.7 205.2 L297.9 200.9 L298.1 197.9 L298.2 195.8 L298.4 194.4 L298.6 193.5 L298.8 192.8 L301.2 180.4 L301.3 183.3 L301.5 188.2 L301.6 194.1 L301.8 200.9 L301.9 208.4 L302.1 216.6 L302.2 225.3 L302.4 234.5 L302.6 217.9 L302.8 206.5 L303.1 198.6 L303.3 193.2 L303.5 189.5 L303.8 187.0 L304.0 185.2 L304.2 184.0 L306.4 175.3 L307.8 173.8 L307.9 177.1 L308.1 182.6 L308.2 189.4 L308.3 197.1 L308.4 205.6 L308.6 214.9 L308.7 224.8 L308.8 235.3 L309.0 218.4 L309.3 206.8 L309.5 198.8 L309.8 193.4 L310.0 189.6 L310.2 187.0 L310.5 185.2 L310.7 184.0 L312.2 178.2 L313.2 180.4 L314.4 176.7 L316.6 171.6 L318.8 170.2 L319.0 174.9 L319.3 182.5 L319.5 191.9 L319.8 202.6 L320.0 214.5 L320.2 227.4 L320.5 241.1 L320.7 255.7 L320.9 233.1 L321.1 217.6 L321.3 206.9 L321.5 199.5 L321.8 194.5 L322.0 191.0 L322.2 188.6 L322.4 187.0 L325.3 177.5 L325.5 180.9 L325.8 186.4 L326.0 193.3 L326.2 201.1 L326.5 209.7 L326.7 219.1 L327.0 229.1 L327.2 239.7 L327.4 220.9 L327.6 208.0 L327.9 199.1 L328.1 193.0 L328.3 188.8 L328.6 185.9 L328.8 184.0 L329.0 182.6 L331.2 176.0 L333.4 173.8 L335.6 170.9 L335.8 174.5 L336.0 180.5 L336.1 187.8 L336.3 196.1 L336.5 205.4 L336.6 215.4 L336.8 226.1 L337.0 237.5 L337.3 219.9 L337.6 207.8 L337.8 199.5 L338.1 193.8 L338.4 189.8 L338.6 187.1 L338.9 185.3 L339.2 184.0 L340.7 179.7 L342.1 182.6 L344.0 176.0 L344.1 179.3 L344.2 184.8 L344.4 191.6 L344.5 199.3 L344.6 207.8 L344.8 217.1 L344.9 227.0 L345.0 237.5 L345.3 219.9 L345.6 207.8 L345.8 199.5 L346.1 193.8 L346.4 189.8 L346.6 187.1 L346.9 185.3 L347.2 184.0 L349.4 179.7 L351.6 175.3 L354.5 172.4 L355.2 174.5 L357.2 167.2 L358.2 168.0 L358.4 170.9 L358.6 175.8 L358.7 181.7 L358.9 188.5 L359.1 196.0 L359.2 204.2 L359.4 212.9 L359.6 222.1 L359.8 213.2 L360.0 207.1 L360.2 202.8 L360.4 199.9 L360.6 198.0 L360.8 196.6 L361.0 195.6 L361.2 195.0"/>
<rect class="ax" x="207.5" y="151.5" width="154.0" height="118.8"/>
<path class="ax" d="M246.0 270.3v-1.6M246.0 151.5v1.6M284.5 270.3v-1.6M284.5 151.5v1.6M323.0 270.3v-1.6M323.0 151.5v1.6M207.5 253.3h1.6M361.5 253.3h-1.6M207.5 236.4h1.6M361.5 236.4h-1.6M207.5 219.4h1.6M361.5 219.4h-1.6M207.5 202.4h1.6M361.5 202.4h-1.6M207.5 185.4h1.6M361.5 185.4h-1.6M207.5 168.5h1.6M361.5 168.5h-1.6"/>
<text x="205.9" y="269.4" font-size="6.9" text-anchor="end" dominant-baseline="central">0</text>
<text x="205.9" y="252.4" font-size="6.9" text-anchor="end" dominant-baseline="central">0.1</text>
<text x="205.9" y="235.5" font-size="6.9" text-anchor="end" dominant-baseline="central">0.2</text>
<text x="205.9" y="218.5" font-size="6.9" text-anchor="end" dominant-baseline="central">0.3</text>
<text x="205.9" y="201.5" font-size="6.9" text-anchor="end" dominant-baseline="central">0.4</text>
<text x="205.9" y="184.5" font-size="6.9" text-anchor="end" dominant-baseline="central">0.5</text>
<text x="205.9" y="167.6" font-size="6.9" text-anchor="end" dominant-baseline="central">0.6</text>
<text x="205.9" y="150.6" font-size="6.9" text-anchor="end" dominant-baseline="central">0.7</text>
<text x="207.5" y="274.7" font-size="6.9" text-anchor="middle" dominant-baseline="central">0</text>
<text x="246.0" y="274.7" font-size="6.9" text-anchor="middle" dominant-baseline="central">100</text>
<text x="284.5" y="274.7" font-size="6.9" text-anchor="middle" dominant-baseline="central">200</text>
<text x="323.0" y="274.7" font-size="6.9" text-anchor="middle" dominant-baseline="central">300</text>
<text x="361.5" y="274.7" font-size="6.9" text-anchor="middle" dominant-baseline="central">400</text>
<text x="284.5" y="284.5" font-size="7.0" text-anchor="middle" dominant-baseline="central">Time [ns]</text>
<text transform="translate(191.9 210.9) rotate(-90)" font-size="7.0" text-anchor="middle" dominant-baseline="central">Power [mW]</text>
<text x="217.2" y="160.1" font-size="6.6" text-anchor="middle" dominant-baseline="central">(e)</text></g>
<g><path class="sig" d="M386.0 185.5 L386.1 187.3 L386.1 190.3 L386.2 194.0 L386.2 198.3 L386.3 203.0 L386.4 208.0 L386.4 213.5 L386.5 219.2 L386.6 206.7 L386.8 198.0 L386.9 192.1 L387.1 188.1 L387.2 185.3 L387.3 183.3 L387.5 182.0 L387.6 181.1 L389.8 176.0 L391.6 171.6 L391.7 175.8 L391.8 182.7 L391.9 191.2 L392.0 201.0 L392.0 211.7 L392.1 223.4 L392.2 235.9 L392.3 249.1 L392.4 231.3 L392.4 219.1 L392.5 210.6 L392.6 204.9 L392.6 200.9 L392.7 198.2 L392.7 196.3 L392.8 195.0 L395.0 173.8 L397.4 170.2 L397.5 174.5 L397.6 181.4 L397.7 190.0 L397.9 199.8 L398.0 210.7 L398.1 222.5 L398.2 235.1 L398.3 248.4 L398.4 232.0 L398.6 220.7 L398.7 213.0 L398.8 207.7 L398.9 204.0 L399.1 201.5 L399.2 199.8 L399.3 198.6 L400.8 182.6 L403.7 166.5 L403.8 170.5 L404.0 177.0 L404.1 185.0 L404.3 194.2 L404.4 204.4 L404.6 215.4 L404.8 227.2 L404.9 239.7 L405.1 220.9 L405.3 208.0 L405.5 199.1 L405.8 193.0 L406.0 188.8 L406.2 185.9 L406.4 184.0 L406.6 182.6 L408.1 174.5 L410.6 171.6 L410.8 175.1 L411.0 180.7 L411.1 187.7 L411.3 195.7 L411.5 204.6 L411.6 214.2 L411.8 224.4 L412.0 235.3 L412.1 218.9 L412.3 207.6 L412.4 199.9 L412.6 194.6 L412.8 190.9 L412.9 188.4 L413.1 186.7 L413.2 185.5 L415.4 174.5 L416.8 179.7 L416.9 182.6 L417.1 187.3 L417.2 193.0 L417.4 199.7 L417.5 207.0 L417.6 214.9 L417.8 223.4 L417.9 232.4 L418.0 216.5 L418.2 205.5 L418.3 198.0 L418.4 192.8 L418.6 189.3 L418.7 186.8 L418.9 185.2 L419.0 184.0 L420.5 181.1 L422.2 171.6 L422.3 175.5 L422.4 181.9 L422.5 189.8 L422.6 198.8 L422.8 208.7 L422.9 219.5 L423.0 231.1 L423.1 243.3 L423.3 223.3 L423.6 209.6 L423.8 200.2 L424.0 193.7 L424.2 189.2 L424.4 186.2 L424.7 184.0 L424.9 182.6 L426.6 176.0 L427.4 177.5 L428.5 172.4 L428.6 176.4 L428.8 183.0 L428.9 191.1 L429.1 200.4 L429.2 210.6 L429.4 221.7 L429.6 233.6 L429.7 246.2 L429.8 228.6 L429.9 216.5 L430.1 208.2 L430.2 202.5 L430.3 198.6 L430.4 195.9 L430.6 194.1 L430.7 192.8 L432.9 176.7 L434.4 173.8 L435.4 162.9 L435.5 167.6 L435.6 175.2 L435.7 184.6 L435.9 195.3 L436.0 207.2 L436.1 220.1 L436.2 233.8 L436.3 248.4 L436.5 226.7 L436.7 211.9 L436.9 201.6 L437.1 194.6 L437.4 189.8 L437.6 186.5 L437.8 184.2 L438.0 182.6 L440.2 175.3 L441.7 176.0 L441.9 172.5 L442.1 170.1 L442.2 168.5 L442.4 167.3 L442.6 166.6 L442.8 166.0 L442.9 165.7 L443.1 165.4 L445.0 168.0 L446.8 168.7 L446.9 172.8 L447.0 179.5 L447.1 187.8 L447.1 197.2 L447.2 207.7 L447.3 219.0 L447.4 231.2 L447.5 244.0 L447.7 227.2 L447.9 215.6 L448.1 207.6 L448.2 202.1 L448.4 198.4 L448.6 195.8 L448.8 194.0 L449.0 192.8 L451.2 178.2 L452.9 172.4 L453.0 176.5 L453.1 183.3 L453.2 191.7 L453.4 201.2 L453.5 211.8 L453.6 223.2 L453.7 235.4 L453.8 248.4 L454.0 226.3 L454.2 211.0 L454.4 200.6 L454.6 193.4 L454.9 188.4 L455.1 185.0 L455.3 182.7 L455.5 181.1 L457.7 174.5 L459.2 170.2 L461.1 171.6 L461.2 175.5 L461.4 182.0 L461.5 189.9 L461.6 199.0 L461.7 209.1 L461.9 220.0 L462.0 231.7 L462.1 244.0 L462.3 224.7 L462.5 211.5 L462.6 202.4 L462.8 196.2 L463.0 191.9 L463.1 188.9 L463.3 186.9 L463.5 185.5 L465.6 172.4 L467.8 170.9 L469.3 165.8 L470.5 166.0 L471.0 167.5 L471.1 172.3 L471.1 180.1 L471.2 189.7 L471.2 200.7 L471.3 212.8 L471.4 226.0 L471.4 240.1 L471.5 255.0 L471.7 234.5 L471.9 220.5 L472.1 210.8 L472.2 204.1 L472.4 199.6 L472.6 196.4 L472.8 194.3 L473.0 192.8 L474.4 181.1 L476.6 175.3 L477.3 169.4 L478.3 173.0 L479.5 169.4 L480.2 174.5 L480.3 177.1 L480.4 181.3 L480.5 186.6 L480.6 192.5 L480.7 199.2 L480.8 206.3 L480.9 214.0 L481.0 222.1 L481.2 209.6 L481.4 200.9 L481.5 195.0 L481.7 191.0 L481.9 188.2 L482.0 186.2 L482.2 184.9 L482.4 184.0 L483.9 175.3 L485.0 176.5 L485.2 173.7 L485.4 171.8 L485.6 170.5 L485.8 169.6 L485.9 168.9 L486.1 168.5 L486.3 168.2 L486.5 168.0 L486.7 172.3 L486.9 179.3 L487.1 188.0 L487.2 197.9 L487.4 208.9 L487.6 220.8 L487.8 233.5 L488.0 247.0 L488.2 226.3 L488.4 212.0 L488.6 202.2 L488.9 195.5 L489.1 190.9 L489.3 187.7 L489.5 185.5 L489.7 184.0 L491.9 170.9 L494.1 168.7 L496.3 164.8 L497.3 166.5 L497.4 171.5 L497.4 179.6 L497.5 189.7 L497.6 201.1 L497.6 213.8 L497.7 227.6 L497.7 242.3 L497.8 257.9 L498.0 235.0 L498.3 219.3 L498.5 208.5 L498.8 201.1 L499.0 196.0 L499.2 192.5 L499.5 190.1 L499.7 188.4 L501.4 179.7 L502.9 174.5 L504.3 167.2 L504.4 171.2 L504.6 177.8 L504.8 185.9 L504.9 195.2 L505.1 205.5 L505.2 216.6 L505.4 228.5 L505.5 241.1 L505.7 221.8 L505.9 208.6 L506.2 199.5 L506.4 193.3 L506.6 189.0 L506.9 186.0 L507.1 184.0 L507.3 182.6 L508.4 175.3 L510.2 173.8 L511.3 173.1 L511.4 176.4 L511.5 181.9 L511.6 188.7 L511.7 196.4 L511.8 204.9 L511.9 214.1 L512.0 224.0 L512.1 234.5 L512.3 217.9 L512.5 206.5 L512.7 198.6 L513.0 193.2 L513.2 189.5 L513.4 187.0 L513.6 185.2 L513.8 184.0 L515.3 173.1 L517.2 171.6 L519.7 165.1 L520.8 166.5 L520.9 170.6 L521.0 177.2 L521.1 185.4 L521.2 194.8 L521.3 205.1 L521.4 216.4 L521.5 228.4 L521.6 241.1 L521.8 223.8 L522.0 211.8 L522.2 203.6 L522.5 198.0 L522.7 194.1 L522.9 191.5 L523.1 189.7 L523.3 188.4 L526.2 172.4 L526.4 175.5 L526.5 180.7 L526.6 187.0 L526.8 194.3 L527.0 202.3 L527.1 211.0 L527.2 220.3 L527.4 230.2 L527.6 213.6 L527.9 202.2 L528.1 194.3 L528.3 188.9 L528.5 185.2 L528.8 182.7 L529.0 180.9 L529.2 179.7 L530.6 172.4 L531.8 172.4 L532.5 174.5 L532.6 178.3 L532.6 184.5 L532.7 192.1 L532.8 200.8 L532.9 210.5 L533.0 221.0 L533.0 232.1 L533.1 244.0 L533.3 223.3 L533.6 209.1 L533.8 199.3 L534.0 192.6 L534.3 188.0 L534.5 184.8 L534.8 182.6 L535.0 181.1 L537.2 170.9 L539.4 168.7 L540.5 168.0"/>
<rect class="ax" x="386.2" y="151.5" width="154.4" height="118.8"/>
<path class="ax" d="M424.8 270.3v-1.6M424.8 151.5v1.6M463.4 270.3v-1.6M463.4 151.5v1.6M502.0 270.3v-1.6M502.0 151.5v1.6M386.2 253.3h1.6M540.6 253.3h-1.6M386.2 236.4h1.6M540.6 236.4h-1.6M386.2 219.4h1.6M540.6 219.4h-1.6M386.2 202.4h1.6M540.6 202.4h-1.6M386.2 185.4h1.6M540.6 185.4h-1.6M386.2 168.5h1.6M540.6 168.5h-1.6"/>
<text x="384.6" y="269.4" font-size="6.9" text-anchor="end" dominant-baseline="central">0.3</text>
<text x="384.6" y="252.4" font-size="6.9" text-anchor="end" dominant-baseline="central">0.4</text>
<text x="384.6" y="235.5" font-size="6.9" text-anchor="end" dominant-baseline="central">0.5</text>
<text x="384.6" y="218.5" font-size="6.9" text-anchor="end" dominant-baseline="central">0.6</text>
<text x="384.6" y="201.5" font-size="6.9" text-anchor="end" dominant-baseline="central">0.7</text>
<text x="384.6" y="184.5" font-size="6.9" text-anchor="end" dominant-baseline="central">0.8</text>
<text x="384.6" y="167.6" font-size="6.9" text-anchor="end" dominant-baseline="central">0.9</text>
<text x="384.6" y="150.6" font-size="6.9" text-anchor="end" dominant-baseline="central">1</text>
<text x="386.2" y="274.7" font-size="6.9" text-anchor="middle" dominant-baseline="central">0</text>
<text x="424.8" y="274.7" font-size="6.9" text-anchor="middle" dominant-baseline="central">100</text>
<text x="463.4" y="274.7" font-size="6.9" text-anchor="middle" dominant-baseline="central">200</text>
<text x="502.0" y="274.7" font-size="6.9" text-anchor="middle" dominant-baseline="central">300</text>
<text x="540.6" y="274.7" font-size="6.9" text-anchor="middle" dominant-baseline="central">400</text>
<text x="463.4" y="284.5" font-size="7.0" text-anchor="middle" dominant-baseline="central">Time [ns]</text>
<text transform="translate(371.4 210.9) rotate(-90)" font-size="7.0" text-anchor="middle" dominant-baseline="central">Power [mW]</text>
<text x="395.9" y="160.1" font-size="6.6" text-anchor="middle" dominant-baseline="central">(f)</text></g>
<g><path class="sig" d="M25.0 352.0 L25.1 352.5 L25.1 353.4 L25.2 354.5 L25.2 355.8 L25.3 357.2 L25.4 358.7 L25.4 360.3 L25.5 362.0 L26.6 356.9 L27.6 351.9 L28.5 361.5 L29.3 363.0 L30.3 370.6 L31.0 369.3 L38.1 369.5 L38.3 365.4 L38.4 362.5 L38.6 360.5 L38.8 359.2 L38.9 358.3 L39.1 357.6 L39.2 357.2 L39.4 356.9 L40.8 346.9 L40.8 349.1 L40.9 352.8 L41.0 357.3 L41.0 362.5 L41.0 368.2 L41.1 374.4 L41.2 381.1 L41.2 388.1 L41.3 382.0 L41.4 377.9 L41.4 375.0 L41.5 373.1 L41.6 371.7 L41.6 370.8 L41.7 370.1 L41.8 369.7 L46.7 369.5 L46.8 365.6 L46.8 363.0 L46.9 361.2 L47.0 359.9 L47.0 359.1 L47.1 358.5 L47.1 358.1 L47.2 357.8 L49.0 347.8 L49.5 349.0 L49.6 351.4 L49.7 355.3 L49.8 360.2 L49.9 365.7 L50.0 371.9 L50.1 378.5 L50.2 385.7 L50.3 393.2 L50.4 385.5 L50.5 380.2 L50.7 376.5 L50.8 374.0 L50.9 372.3 L51.0 371.1 L51.2 370.3 L51.3 369.7 L52.5 368.0 L53.5 360.0 L54.9 353.2 L56.3 350.5 L57.5 344.1 L57.5 346.0 L57.6 349.2 L57.6 353.0 L57.6 357.5 L57.7 362.4 L57.7 367.7 L57.8 373.4 L57.8 379.4 L57.9 376.1 L58.0 373.9 L58.1 372.4 L58.2 371.3 L58.3 370.6 L58.4 370.1 L58.5 369.7 L58.6 369.5 L67.7 369.2 L67.8 364.6 L67.8 361.4 L67.9 359.2 L68.0 357.7 L68.0 356.6 L68.1 355.9 L68.1 355.4 L68.2 355.1 L70.0 346.4 L70.0 349.8 L70.1 355.4 L70.2 362.3 L70.2 370.2 L70.2 379.0 L70.3 388.4 L70.4 398.6 L70.4 409.3 L70.6 396.3 L70.8 387.3 L71.0 381.2 L71.2 376.9 L71.3 374.0 L71.5 372.0 L71.7 370.6 L71.9 369.7 L72.5 369.7 L72.6 365.8 L72.7 363.1 L72.8 361.2 L72.9 360.0 L73.0 359.1 L73.1 358.5 L73.2 358.1 L73.3 357.8 L74.2 350.5 L75.6 341.4 L76.1 343.0 L76.2 346.7 L76.2 352.7 L76.3 360.1 L76.3 368.7 L76.4 378.1 L76.5 388.3 L76.5 399.2 L76.6 410.7 L76.7 397.2 L76.8 387.9 L76.9 381.6 L77.0 377.2 L77.1 374.2 L77.2 372.1 L77.3 370.7 L77.4 369.7 L82.9 369.7 L83.0 365.8 L83.0 363.1 L83.0 361.2 L83.1 360.0 L83.2 359.1 L83.2 358.5 L83.2 358.1 L83.3 357.8 L84.7 353.2 L86.1 346.9 L86.2 349.9 L86.3 354.7 L86.4 360.7 L86.4 367.5 L86.5 375.1 L86.6 383.3 L86.7 392.0 L86.8 401.3 L86.9 390.9 L87.0 383.8 L87.0 378.8 L87.1 375.5 L87.2 373.1 L87.2 371.5 L87.3 370.5 L87.4 369.7 L88.3 368.8 L89.2 353.2 L90.6 350.5 L92.0 348.7 L92.9 302.6 L92.9 308.3 L93.0 317.7 L93.0 329.2 L93.0 342.5 L93.0 357.1 L93.0 372.9 L93.1 389.9 L93.1 407.8 L93.2 395.3 L93.4 386.6 L93.5 380.7 L93.7 376.7 L93.8 373.9 L94.0 371.9 L94.1 370.6 L94.3 369.7 L95.5 367.0 L96.5 369.7 L100.2 369.5 L100.4 365.6 L100.5 363.0 L100.7 361.2 L100.9 359.9 L101.1 359.1 L101.2 358.5 L101.4 358.1 L101.6 357.8 L102.5 346.0 L102.9 345.0 L103.8 353.0 L103.8 356.4 L103.9 361.9 L104.0 368.7 L104.0 376.5 L104.0 385.2 L104.1 394.5 L104.2 404.5 L104.2 415.1 L104.3 400.2 L104.5 389.9 L104.6 382.8 L104.7 378.0 L104.8 374.6 L105.0 372.4 L105.1 370.8 L105.2 369.7 L107.5 369.7 L107.7 364.3 L108.0 360.5 L108.2 358.0 L108.4 356.2 L108.6 355.0 L108.8 354.2 L109.1 353.6 L109.3 353.2 L111.1 346.9 L112.2 343.2 L112.3 346.4 L112.4 351.7 L112.5 358.3 L112.6 365.7 L112.7 374.0 L112.8 383.0 L112.9 392.6 L113.0 402.7 L113.1 391.8 L113.2 384.3 L113.4 379.1 L113.5 375.6 L113.6 373.1 L113.8 371.4 L113.9 370.3 L114.0 369.5 L121.3 369.2 L121.3 363.9 L121.4 360.3 L121.5 357.8 L121.5 356.1 L121.5 354.9 L121.6 354.1 L121.7 353.6 L121.7 353.2 L122.6 345.5 L123.6 350.5 L123.8 352.8 L123.9 356.5 L124.0 361.1 L124.2 366.3 L124.3 372.1 L124.5 378.4 L124.6 385.1 L124.8 392.2 L124.9 384.8 L125.0 379.7 L125.0 376.2 L125.1 373.8 L125.2 372.2 L125.2 371.0 L125.3 370.2 L125.4 369.7 L130.0 369.7 L130.1 365.2 L130.1 362.1 L130.2 360.0 L130.2 358.5 L130.2 357.5 L130.3 356.8 L130.3 356.3 L130.4 356.0 L132.2 353.2 L133.6 344.6 L134.5 369.7 L136.5 369.7 L136.7 365.2 L136.8 362.1 L136.9 360.0 L137.1 358.5 L137.2 357.5 L137.4 356.8 L137.5 356.3 L137.7 356.0 L139.5 350.5 L140.4 325.9 L140.4 330.4 L140.5 337.8 L140.5 346.9 L140.6 357.3 L140.6 368.8 L140.6 381.3 L140.7 394.7 L140.7 408.8 L140.9 395.9 L141.1 387.1 L141.3 381.0 L141.5 376.8 L141.7 374.0 L141.9 372.0 L142.1 370.6 L142.3 369.7 L144.6 369.7 L144.7 364.3 L144.7 360.5 L144.8 358.0 L144.8 356.2 L144.8 355.0 L144.9 354.2 L144.9 353.6 L145.0 353.2 L146.4 350.5 L147.3 347.8 L147.7 323.0 L147.7 327.1 L147.8 333.8 L147.8 342.1 L147.8 351.5 L147.9 362.0 L147.9 373.3 L148.0 385.5 L148.0 398.3 L148.1 388.6 L148.3 381.9 L148.4 377.3 L148.6 374.2 L148.7 372.0 L148.8 370.5 L149.0 369.5 L149.1 368.8 L155.5 369.5 L155.6 364.1 L155.6 360.4 L155.7 357.9 L155.8 356.2 L155.8 355.0 L155.9 354.2 L155.9 353.6 L156.0 353.2 L157.3 351.4 L158.2 345.0 L159.3 300.4 L159.3 306.6 L159.4 316.7 L159.4 329.1 L159.4 343.3 L159.4 359.1 L159.4 376.1 L159.5 394.4 L159.5 413.7 L159.6 396.7 L159.6 385.0 L159.7 377.0 L159.8 371.4 L159.8 367.6 L159.9 365.0 L159.9 363.2 L160.0 362.0 L161.0 348.7 L162.3 347.8 L162.5 351.0 L162.6 356.3 L162.8 362.8 L162.9 370.3 L163.1 378.5 L163.2 387.4 L163.3 397.0 L163.5 407.1 L163.6 393.0 L163.7 383.3 L163.8 376.6 L163.8 372.0 L163.9 368.9 L164.0 366.7 L164.1 365.2 L164.2 364.2 L165.0 367.0 L166.5 368.8 L171.5 369.7 L171.6 363.7 L171.7 359.5 L171.8 356.7 L171.9 354.7 L172.1 353.4 L172.2 352.5 L172.3 351.8 L172.4 351.4 L173.7 346.0 L174.6 340.5 L174.7 343.8 L174.8 349.1 L174.9 355.7 L175.1 363.2 L175.2 371.6 L175.3 380.6 L175.4 390.3 L175.5 400.5 L175.6 390.1 L175.6 382.9 L175.7 378.0 L175.8 374.6 L175.8 372.3 L175.9 370.7 L175.9 369.6 L176.0 368.8 L179.6 369.5"/>
<rect class="ax" x="24.8" y="298.4" width="154.8" height="118.7"/>
<path class="ax" d="M63.5 417.1v-1.6M63.5 298.4v1.6M102.2 417.1v-1.6M102.2 298.4v1.6M140.9 417.1v-1.6M140.9 298.4v1.6M24.8 405.2h1.6M179.6 405.2h-1.6M24.8 381.5h1.6M179.6 381.5h-1.6M24.8 357.8h1.6M179.6 357.8h-1.6M24.8 334.0h1.6M179.6 334.0h-1.6M24.8 310.3h1.6M179.6 310.3h-1.6"/>
<text x="23.2" y="404.3" font-size="6.9" text-anchor="end" dominant-baseline="central">0.2</text>
<text x="23.2" y="380.6" font-size="6.9" text-anchor="end" dominant-baseline="central">0.3</text>
<text x="23.2" y="356.9" font-size="6.9" text-anchor="end" dominant-baseline="central">0.4</text>
<text x="23.2" y="333.1" font-size="6.9" text-anchor="end" dominant-baseline="central">0.5</text>
<text x="23.2" y="309.4" font-size="6.9" text-anchor="end" dominant-baseline="central">0.6</text>
<text x="24.8" y="421.5" font-size="6.9" text-anchor="middle" dominant-baseline="central">0</text>
<text x="63.5" y="421.5" font-size="6.9" text-anchor="middle" dominant-baseline="central">100</text>
<text x="102.2" y="421.5" font-size="6.9" text-anchor="middle" dominant-baseline="central">200</text>
<text x="140.9" y="421.5" font-size="6.9" text-anchor="middle" dominant-baseline="central">300</text>
<text x="179.6" y="421.5" font-size="6.9" text-anchor="middle" dominant-baseline="central">400</text>
<text x="102.2" y="431.3" font-size="7.0" text-anchor="middle" dominant-baseline="central">Time [ns]</text>
<text transform="translate(8.8 357.8) rotate(-90)" font-size="7.0" text-anchor="middle" dominant-baseline="central">Power [mW]</text>
<text x="34.5" y="307.0" font-size="6.6" text-anchor="middle" dominant-baseline="central">(g)</text></g>
<g><path class="sig" d="M207.5 316.0 L207.9 352.0 L208.3 378.0 L208.7 330.0 L209.2 318.0 L209.6 345.0 L210.1 372.0 L210.5 330.0 L210.9 345.0 L211.3 398.0 L211.7 340.0 L212.1 309.0 L212.5 315.0 L212.8 398.0 L213.1 365.0 L213.5 363.3 L221.4 363.3 L221.7 353.4 L222.0 346.6 L222.3 342.0 L222.6 338.8 L222.9 336.6 L223.2 335.1 L223.5 334.0 L223.8 333.3 L224.7 321.3 L225.3 332.0 L226.0 332.6 L226.6 395.4 L227.3 363.3 L228.5 363.3 L228.9 353.3 L229.2 346.5 L229.6 341.8 L230.0 338.5 L230.4 336.3 L230.8 334.8 L231.1 333.7 L231.5 333.0 L231.8 334.5 L232.3 369.9 L232.7 363.3 L233.5 363.3 L233.9 352.0 L234.4 344.3 L234.8 338.9 L235.2 335.3 L235.7 332.7 L236.1 331.0 L236.6 329.8 L237.0 329.0 L237.3 330.5 L237.8 392.5 L238.2 363.3 L239.3 345.0 L240.3 337.3 L241.2 350.0 L242.7 364.8 L243.3 363.3 L248.8 363.3 L249.2 352.1 L249.5 344.4 L249.8 339.1 L250.2 335.5 L250.6 333.0 L250.9 331.3 L251.2 330.1 L251.6 329.3 L251.9 330.8 L252.4 372.8 L252.8 363.3 L253.2 363.3 L253.6 353.4 L254.0 346.6 L254.4 342.0 L254.8 338.8 L255.1 336.6 L255.5 335.1 L255.9 334.0 L256.3 333.3 L256.7 334.8 L257.1 367.0 L257.5 363.3 L260.5 363.3 L260.9 353.6 L261.4 346.9 L261.8 342.3 L262.2 339.1 L262.6 336.9 L263.0 335.4 L263.5 334.4 L263.9 333.7 L264.2 335.2 L264.7 369.1 L265.1 363.3 L265.8 363.3 L266.2 351.6 L266.7 343.5 L267.1 338.0 L267.6 334.2 L268.1 331.6 L268.5 329.8 L268.9 328.5 L269.4 327.7 L269.8 329.2 L270.2 372.0 L270.6 363.3 L273.5 363.3 L274.0 351.7 L274.6 343.8 L275.1 338.4 L275.6 334.6 L276.2 332.0 L276.7 330.3 L277.3 329.0 L277.8 328.2 L278.2 329.7 L278.6 377.9 L279.0 363.3 L283.5 363.3 L284.0 353.7 L284.4 347.0 L284.9 342.5 L285.4 339.3 L285.8 337.2 L286.3 335.7 L286.7 334.7 L287.2 334.0 L288.1 311.5 L288.6 403.3 L289.3 363.3 L291.5 363.3 L291.9 353.4 L292.2 346.6 L292.6 341.9 L293.0 338.7 L293.4 336.5 L293.8 335.0 L294.1 333.9 L294.5 333.2 L294.9 334.7 L295.3 362.4 L295.7 363.3 L297.5 363.3 L297.8 354.4 L298.1 348.4 L298.4 344.2 L298.8 341.3 L299.1 339.3 L299.4 338.0 L299.7 337.0 L300.0 336.4 L300.4 337.9 L300.8 363.3 L301.2 363.3 L303.5 363.3 L303.9 354.6 L304.2 348.6 L304.6 344.5 L305.0 341.7 L305.4 339.8 L305.8 338.4 L306.1 337.5 L306.5 336.9 L306.9 338.4 L307.3 387.8 L307.7 363.3 L307.6 350.0 L307.9 343.7 L308.2 339.4 L308.5 336.4 L308.9 334.4 L309.2 333.0 L309.5 332.0 L309.8 331.4 L310.1 330.9 L310.5 332.4 L310.9 387.8 L311.3 363.3 L314.7 363.3 L315.4 352.0 L316.1 344.3 L316.8 339.0 L317.4 335.3 L318.1 332.8 L318.8 331.1 L319.5 329.9 L320.2 329.1 L320.6 330.6 L321.0 397.7 L321.4 363.3 L322.6 356.9 L323.2 348.0 L323.9 342.0 L324.5 337.8 L325.1 334.9 L325.8 332.9 L326.4 331.6 L327.1 330.6 L327.7 330.0 L328.1 331.5 L328.5 386.4 L328.9 363.3 L332.0 363.3 L332.4 352.3 L332.7 344.8 L333.1 339.6 L333.4 336.1 L333.8 333.6 L334.1 331.9 L334.4 330.8 L334.8 330.0 L335.2 331.5 L335.6 386.4 L336.0 363.3 L339.6 363.3 L340.1 351.3 L340.6 343.0 L341.0 337.4 L341.5 333.5 L342.0 330.8 L342.4 328.9 L342.9 327.7 L343.4 326.8 L343.8 328.3 L344.2 370.9 L344.6 363.3 L347.5 363.3 L348.1 352.0 L348.7 344.3 L349.3 339.0 L349.9 335.3 L350.6 332.8 L351.2 331.1 L351.8 329.9 L352.4 329.1 L352.8 330.6 L353.2 376.5 L353.6 363.3 L355.5 363.3 L355.8 351.5 L356.1 343.3 L356.4 337.7 L356.8 333.9 L357.1 331.2 L357.4 329.4 L357.7 328.2 L358.0 327.3 L358.4 328.8 L358.8 389.2 L359.2 363.3 L361.3 362.4"/>
<rect class="ax" x="207.5" y="298.4" width="154.0" height="118.7"/>
<path class="ax" d="M246.0 417.1v-1.6M246.0 298.4v1.6M284.5 417.1v-1.6M284.5 298.4v1.6M323.0 417.1v-1.6M323.0 298.4v1.6M207.5 400.1h1.6M361.5 400.1h-1.6M207.5 383.2h1.6M361.5 383.2h-1.6M207.5 366.2h1.6M361.5 366.2h-1.6M207.5 349.3h1.6M361.5 349.3h-1.6M207.5 332.3h1.6M361.5 332.3h-1.6M207.5 315.4h1.6M361.5 315.4h-1.6"/>
<text x="205.9" y="416.2" font-size="6.9" text-anchor="end" dominant-baseline="central">0.3</text>
<text x="205.9" y="399.2" font-size="6.9" text-anchor="end" dominant-baseline="central">0.4</text>
<text x="205.9" y="382.3" font-size="6.9" text-anchor="end" dominant-baseline="central">0.5</text>
<text x="205.9" y="365.3" font-size="6.9" text-anchor="end" dominant-baseline="central">0.6</text>
<text x="205.9" y="348.4" font-size="6.9" text-anchor="end" dominant-baseline="central">0.7</text>
<text x="205.9" y="331.4" font-size="6.9" text-anchor="end" dominant-baseline="central">0.8</text>
<text x="205.9" y="314.5" font-size="6.9" text-anchor="end" dominant-baseline="central">0.9</text>
<text x="205.9" y="297.5" font-size="6.9" text-anchor="end" dominant-baseline="central">1</text>
<text x="207.5" y="421.5" font-size="6.9" text-anchor="middle" dominant-baseline="central">0</text>
<text x="246.0" y="421.5" font-size="6.9" text-anchor="middle" dominant-baseline="central">100</text>
<text x="284.5" y="421.5" font-size="6.9" text-anchor="middle" dominant-baseline="central">200</text>
<text x="323.0" y="421.5" font-size="6.9" text-anchor="middle" dominant-baseline="central">300</text>
<text x="361.5" y="421.5" font-size="6.9" text-anchor="middle" dominant-baseline="central">400</text>
<text x="284.5" y="431.3" font-size="7.0" text-anchor="middle" dominant-baseline="central">Time [ns]</text>
<text transform="translate(191.9 357.8) rotate(-90)" font-size="7.0" text-anchor="middle" dominant-baseline="central">Power [mW]</text>
<text x="217.2" y="307.0" font-size="6.6" text-anchor="middle" dominant-baseline="central">(h)</text></g>
<g><path class="sig" d="M386.0 362.0 L386.5 335.0 L386.8 397.7 L387.2 340.0 L387.6 327.3 L388.2 335.0 L388.6 345.0 L389.0 332.0 L389.5 328.2 L389.9 340.0 L390.4 388.5 L390.9 369.2 L392.4 369.2 L392.6 352.0 L393.0 344.6 L393.3 338.9 L393.7 334.4 L394.0 330.9 L394.4 328.2 L394.8 326.1 L395.1 324.5 L395.5 323.2 L395.9 327.2 L396.2 401.9 L396.6 369.2 L398.8 369.2 L399.0 352.0 L399.5 344.4 L399.9 338.5 L400.4 333.9 L400.9 330.4 L401.4 327.6 L401.9 325.4 L402.3 323.7 L402.8 322.4 L403.2 326.4 L403.5 376.0 L403.9 369.2 L406.3 369.2 L406.5 352.0 L407.0 344.9 L407.5 339.3 L408.0 335.0 L408.4 331.7 L408.9 329.1 L409.4 327.0 L409.9 325.4 L410.4 324.2 L410.8 328.2 L411.1 379.4 L411.5 369.2 L414.2 369.2 L414.4 352.0 L414.8 344.4 L415.2 338.5 L415.6 333.9 L415.9 330.4 L416.3 327.6 L416.7 325.4 L417.1 323.7 L417.5 322.4 L419.2 323.9 L419.6 326.4 L419.9 396.3 L420.3 369.2 L422.2 369.2 L422.4 352.0 L422.8 346.0 L423.2 341.4 L423.6 337.8 L423.9 335.0 L424.3 332.8 L424.7 331.1 L425.1 329.7 L425.5 328.7 L425.9 332.7 L426.2 389.2 L426.6 369.2 L429.2 369.2 L429.4 352.0 L429.8 342.3 L430.2 334.8 L430.6 328.9 L431.0 324.3 L431.4 320.7 L431.8 317.9 L432.2 315.8 L432.6 314.1 L433.0 318.1 L433.3 393.5 L433.7 369.2 L434.6 369.2 L434.8 352.0 L435.2 344.5 L435.6 338.7 L435.9 334.2 L436.3 330.7 L436.7 327.9 L437.1 325.8 L437.4 324.1 L437.8 322.8 L439.1 324.3 L439.5 326.8 L439.8 400.5 L440.2 369.2 L441.8 369.2 L442.0 352.0 L442.4 345.3 L442.8 340.2 L443.2 336.1 L443.6 333.0 L443.9 330.5 L444.3 328.6 L444.7 327.2 L445.1 326.0 L445.5 330.0 L445.8 372.4 L446.2 369.2 L450.2 369.2 L450.4 352.0 L450.8 346.9 L451.2 342.9 L451.6 339.7 L452.0 337.3 L452.5 335.4 L452.9 333.9 L453.3 332.8 L453.7 331.9 L454.1 335.9 L454.4 386.4 L454.8 369.2 L456.8 369.2 L457.0 352.0 L457.2 346.7 L457.5 342.6 L457.8 339.4 L458.0 336.9 L458.2 335.0 L458.5 333.5 L458.8 332.3 L459.0 331.4 L459.4 335.4 L459.7 386.4 L460.1 369.2 L463.6 369.2 L463.8 352.0 L464.2 345.2 L464.6 339.9 L465.1 335.8 L465.5 332.6 L465.9 330.1 L466.4 328.2 L466.8 326.7 L467.2 325.5 L467.6 329.5 L467.9 377.9 L468.3 369.2 L470.2 369.2 L470.4 352.0 L470.8 345.9 L471.1 341.2 L471.5 337.5 L471.9 334.6 L472.2 332.4 L472.6 330.6 L472.9 329.3 L473.3 328.2 L473.7 332.2 L474.0 380.7 L474.4 369.2 L474.6 369.2 L474.8 352.0 L475.1 346.6 L475.4 342.4 L475.8 339.2 L476.1 336.6 L476.4 334.7 L476.8 333.1 L477.1 331.9 L477.4 331.0 L477.8 335.0 L478.1 394.9 L478.5 369.2 L482.0 369.2 L482.2 352.0 L482.7 344.3 L483.2 338.3 L483.7 333.6 L484.2 330.0 L484.8 327.2 L485.3 325.0 L485.8 323.2 L486.3 321.9 L487.3 323.4 L487.7 325.9 L488.0 382.2 L488.4 369.2 L490.3 369.2 L490.5 352.0 L490.9 345.9 L491.4 341.2 L491.8 337.5 L492.2 334.7 L492.7 332.4 L493.1 330.7 L493.6 329.4 L494.0 328.3 L494.4 332.3 L494.7 387.8 L495.1 369.2 L495.2 369.2 L495.4 352.0 L495.7 346.8 L496.0 342.7 L496.3 339.5 L496.6 337.0 L497.0 335.1 L497.3 333.6 L497.6 332.4 L497.9 331.5 L498.3 335.5 L498.6 389.2 L499.0 369.2 L503.0 369.2 L503.2 352.0 L503.7 345.9 L504.1 341.2 L504.6 337.5 L505.1 334.7 L505.6 332.4 L506.1 330.7 L506.5 329.4 L507.0 328.3 L507.4 332.3 L507.7 382.2 L508.1 369.2 L509.4 369.2 L509.6 352.0 L510.0 345.0 L510.3 339.5 L510.7 335.3 L511.0 332.0 L511.4 329.4 L511.8 327.4 L512.1 325.8 L512.5 324.6 L512.9 328.6 L513.2 375.1 L513.6 369.2 L515.8 369.2 L516.0 352.0 L516.5 345.8 L516.9 341.0 L517.4 337.2 L517.9 334.3 L518.3 332.0 L518.8 330.3 L519.2 328.9 L519.7 327.8 L520.1 331.8 L520.4 386.4 L520.8 369.2 L523.1 369.2 L523.3 352.0 L523.8 343.9 L524.3 337.6 L524.8 332.7 L525.3 328.8 L525.8 325.8 L526.3 323.5 L526.8 321.7 L527.3 320.3 L527.7 324.3 L528.0 389.2 L528.4 369.2 L530.2 369.2 L530.4 352.0 L530.9 345.2 L531.4 339.9 L531.8 335.8 L532.3 332.6 L532.8 330.1 L533.2 328.1 L533.7 326.6 L534.2 325.4 L534.6 329.4 L534.9 378.0 L535.3 369.2 L536.2 369.2 L536.4 352.0 L536.8 347.1 L537.1 343.2 L537.5 340.2 L537.9 337.9 L538.2 336.1 L538.6 334.7 L538.9 333.6 L539.3 332.7 L539.7 336.7 L540.0 386.4 L540.4 369.2"/>
<rect class="ax" x="386.2" y="298.4" width="154.4" height="118.7"/>
<path class="ax" d="M424.8 417.1v-1.6M424.8 298.4v1.6M463.4 417.1v-1.6M463.4 298.4v1.6M502.0 417.1v-1.6M502.0 298.4v1.6M386.2 400.1h1.6M540.6 400.1h-1.6M386.2 383.2h1.6M540.6 383.2h-1.6M386.2 366.2h1.6M540.6 366.2h-1.6M386.2 349.3h1.6M540.6 349.3h-1.6M386.2 332.3h1.6M540.6 332.3h-1.6M386.2 315.4h1.6M540.6 315.4h-1.6"/>
<text x="384.6" y="416.2" font-size="6.9" text-anchor="end" dominant-baseline="central">0.6</text>
<text x="384.6" y="399.2" font-size="6.9" text-anchor="end" dominant-baseline="central">0.7</text>
<text x="384.6" y="382.3" font-size="6.9" text-anchor="end" dominant-baseline="central">0.8</text>
<text x="384.6" y="365.3" font-size="6.9" text-anchor="end" dominant-baseline="central">0.9</text>
<text x="384.6" y="348.4" font-size="6.9" text-anchor="end" dominant-baseline="central">1</text>
<text x="384.6" y="331.4" font-size="6.9" text-anchor="end" dominant-baseline="central">1.1</text>
<text x="384.6" y="314.5" font-size="6.9" text-anchor="end" dominant-baseline="central">1.2</text>
<text x="384.6" y="297.5" font-size="6.9" text-anchor="end" dominant-baseline="central">1.3</text>
<text x="386.2" y="421.5" font-size="6.9" text-anchor="middle" dominant-baseline="central">0</text>
<text x="424.8" y="421.5" font-size="6.9" text-anchor="middle" dominant-baseline="central">100</text>
<text x="463.4" y="421.5" font-size="6.9" text-anchor="middle" dominant-baseline="central">200</text>
<text x="502.0" y="421.5" font-size="6.9" text-anchor="middle" dominant-baseline="central">300</text>
<text x="540.6" y="421.5" font-size="6.9" text-anchor="middle" dominant-baseline="central">400</text>
<text x="463.4" y="431.3" font-size="7.0" text-anchor="middle" dominant-baseline="central">Time [ns]</text>
<text transform="translate(371.4 357.8) rotate(-90)" font-size="7.0" text-anchor="middle" dominant-baseline="central">Power [mW]</text>
<text x="395.9" y="307.0" font-size="6.6" text-anchor="middle" dominant-baseline="central">(i)</text></g>
</svg>
</body></html>
